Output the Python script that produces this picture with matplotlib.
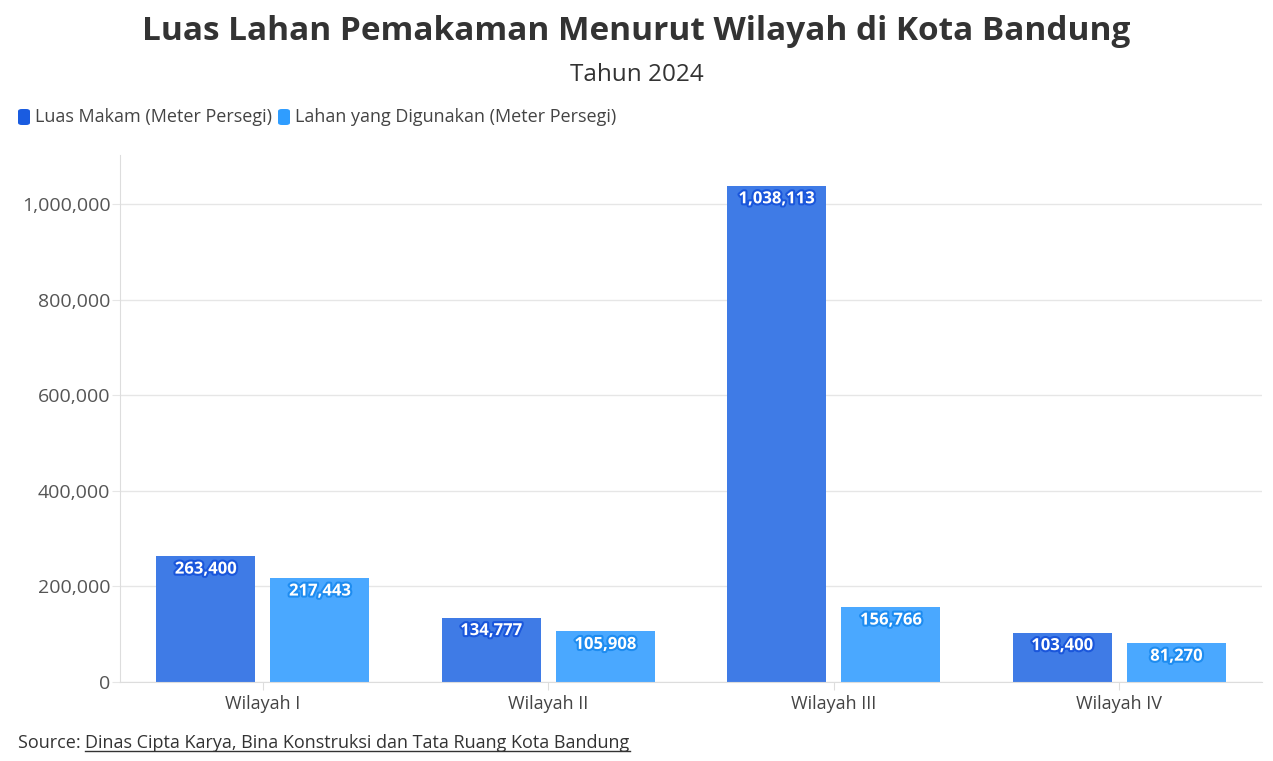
import numpy as np
import matplotlib.pyplot as plt
import matplotlib.patheffects as pe
from matplotlib.patches import FancyBboxPatch

plt.rcParams['font.family'] = ['Open Sans', 'DejaVu Sans']

wilayah = ['Wilayah I', 'Wilayah II', 'Wilayah III', 'Wilayah IV']
luas_makam = [263400, 134777, 1038113, 103400]
lahan_digunakan = [217443, 105908, 156766, 81270]
series_names = ['Luas Makam (Meter Persegi)', 'Lahan yang Digunakan (Meter Persegi)']
yticks = [0, 200000, 400000, 600000, 800000, 1000000]

c_dark = '#3f7be6'
c_light = '#4aa8ff'
c_dark_leg = '#1a5ce0'
c_light_leg = '#2f9dff'

fig = plt.figure(figsize=(12.73, 7.61), dpi=100)
ax = fig.add_axes([0.0943, 0.1038, 0.8971, 0.6925])

x = np.arange(len(wilayah))
w = 0.347
off = 0.2
b1 = ax.bar(x - off, luas_makam, w, color=c_dark)
b2 = ax.bar(x + off, lahan_digunakan, w, color=c_light)

def label(bars, vals, outline):
    for b, v in zip(bars, vals):
        t = ax.annotate(f'{v:,}', (b.get_x() + b.get_width() / 2, v),
                        xytext=(0, -9), textcoords='offset points',
                        ha='center', va='center', color='white',
                        fontsize=12, fontweight='bold')
        t.set_path_effects([pe.withStroke(linewidth=3, foreground=outline)])

label(b1, luas_makam, '#1a56db')
label(b2, lahan_digunakan, '#1e8cf0')

ax.set_xlim(-0.5, 3.5)
ax.set_ylim(0, 1102500)
ax.set_xticks(x)
ax.set_xticklabels(wilayah, fontsize=13, color='#444444')
ax.set_yticks(yticks)
ax.set_yticklabels([f'{v:,}' for v in yticks], fontsize=14, color='#555555')
ax.tick_params(axis='x', length=6, color='#dddddd', pad=3)
ax.tick_params(axis='y', length=6, color='#e6e6e6', pad=1)
ax.grid(axis='y', color='#e6e6e6', linewidth=1)
ax.set_axisbelow(True)
for s in ['top', 'right']:
    ax.spines[s].set_visible(False)
ax.spines['left'].set_color('#dddddd')
ax.spines['bottom'].set_color('#dddddd')

fig.text(0.5, 0.958, 'Luas Lahan Pemakaman Menurut Wilayah di Kota Bandung',
         ha='center', va='center', fontsize=24, fontweight='bold', color='#333333')
fig.text(0.5, 0.901, 'Tahun 2024', ha='center', va='center', fontsize=17.5, color='#333333')

# legend
leg_y = 1 - 117 / 761
xpos = 18 / 1273
for name, col in zip(series_names, [c_dark_leg, c_light_leg]):
    fig.patches.append(FancyBboxPatch((xpos, leg_y - 8 / 761), 12 / 1273, 16 / 761,
                                      boxstyle='round,pad=0,rounding_size=0.003',
                                      transform=fig.transFigure, facecolor=col,
                                      edgecolor='none'))
    t = fig.text(xpos + 17 / 1273, leg_y, name, ha='left', va='center',
                 fontsize=13, color='#444444')
    fig.canvas.draw()
    bb = t.get_window_extent()
    xpos = bb.x1 / 1273 + 6 / 1273

# source
src_y = 1 - 743 / 761
t1 = fig.text(18 / 1273, src_y, 'Source: ', ha='left', va='center', fontsize=13, color='#333333')
fig.canvas.draw()
bb1 = t1.get_window_extent()
t2 = fig.text(bb1.x1 / 1273, src_y, 'Dinas Cipta Karya, Bina Konstruksi dan Tata Ruang Kota Bandung',
              ha='left', va='center', fontsize=13, color='#333333')
fig.canvas.draw()
bb2 = t2.get_window_extent()
fig.add_artist(plt.Line2D([bb2.x0 / 1273, bb2.x1 / 1273],
                          [(bb2.y0 + 1) / 761, (bb2.y0 + 1) / 761],
                          transform=fig.transFigure, color='#333333', linewidth=1))

fig.savefig('out.png', dpi=100)
